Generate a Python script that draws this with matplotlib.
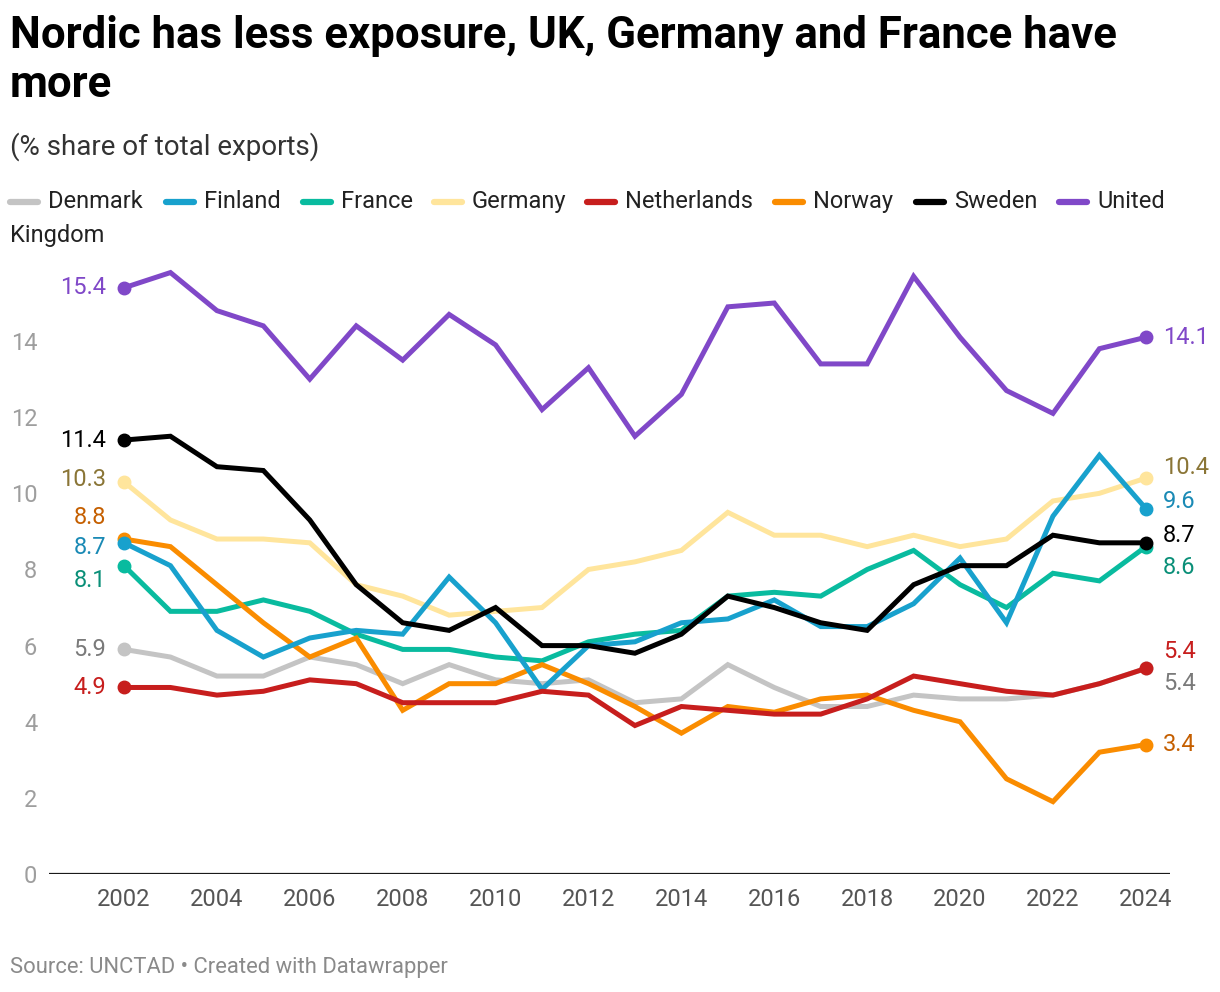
import numpy as np
import matplotlib
matplotlib.use("Agg")
import matplotlib.pyplot as plt
from matplotlib.lines import Line2D

plt.rcParams['font.family'] = ['Roboto', 'DejaVu Sans']

years = list(range(2002, 2025))

denmark = [5.9, 5.7, 5.2, 5.2, 5.7, 5.5, 5.0, 5.5, 5.1, 5.0, 5.1, 4.5, 4.6, 5.5, 4.9, 4.4, 4.4, 4.7, 4.6, 4.6, 4.7, 5.0, 5.4]
finland = [8.7, 8.1, 6.4, 5.7, 6.2, 6.4, 6.3, 7.8, 6.6, 4.85, 6.0, 6.1, 6.6, 6.7, 7.2, 6.5, 6.5, 7.1, 8.3, 6.6, 9.4, 11.0, 9.6]
france = [8.1, 6.9, 6.9, 7.2, 6.9, 6.3, 5.9, 5.9, 5.7, 5.6, 6.1, 6.3, 6.4, 7.3, 7.4, 7.3, 8.0, 8.5, 7.6, 7.0, 7.9, 7.7, 8.6]
germany = [10.3, 9.3, 8.8, 8.8, 8.7, 7.6, 7.3, 6.8, 6.9, 7.0, 8.0, 8.2, 8.5, 9.5, 8.9, 8.9, 8.6, 8.9, 8.6, 8.8, 9.8, 10.0, 10.4]
netherlands = [4.9, 4.9, 4.7, 4.8, 5.1, 5.0, 4.5, 4.5, 4.5, 4.8, 4.7, 3.9, 4.4, 4.3, 4.2, 4.2, 4.6, 5.2, 5.0, 4.8, 4.7, 5.0, 5.4]
norway = [8.8, 8.6, 7.6, 6.6, 5.7, 6.2, 4.3, 5.0, 5.0, 5.5, 5.0, 4.4, 3.7, 4.4, 4.25, 4.6, 4.7, 4.3, 4.0, 2.5, 1.9, 3.2, 3.4]
sweden = [11.4, 11.5, 10.7, 10.6, 9.3, 7.6, 6.6, 6.4, 7.0, 6.0, 6.0, 5.8, 6.3, 7.3, 7.0, 6.6, 6.4, 7.6, 8.1, 8.1, 8.9, 8.7, 8.7]
uk = [15.4, 15.8, 14.8, 14.4, 13.0, 14.4, 13.5, 14.7, 13.9, 12.2, 13.3, 11.5, 12.6, 14.9, 15.0, 13.4, 13.4, 15.7, 14.1, 12.7, 12.1, 13.8, 14.1]

names = ["Denmark", "Finland", "France", "Germany", "Netherlands", "Norway", "Sweden", "United Kingdom"]
series = [denmark, finland, france, germany, netherlands, norway, sweden, uk]
line_colors = ["#c4c4c4", "#18a1cd", "#09bb9f", "#ffe59c", "#c71e1d", "#fa8c00", "#000000", "#8048c8"]
label_colors = ["#7a7a7a", "#1a8ab5", "#0a8f78", "#8a7536", "#c71e1d", "#c55f00", "#000000", "#8048c8"]
# pixel nudges for end labels so they don't collide
left_dy = [0, -5, -15, 2, 0, 22, 0, 0]
right_dy = [-15, 7, -21, 11, 17, 0, 7, 0]
zorders = [2, 4, 3, 1, 5, 3, 6, 7]

fig = plt.figure(figsize=(12.2, 9.92), dpi=100)
ax = fig.add_axes([49 / 1220, 118 / 992, 1121 / 1220, 614 / 992])

for vals, col, lcol, z, ldy, rdy in zip(series, line_colors, label_colors, zorders, left_dy, right_dy):
    ax.plot(years, vals, color=col, lw=3.6, zorder=z, solid_joinstyle='miter')
    ax.plot([years[0], years[-1]], [vals[0], vals[-1]], 'o', color=col, ms=9, zorder=z)
    ax.annotate(f"{vals[0]:.1f}", (years[0], vals[0]), xytext=(-18, ldy), textcoords='offset pixels',
                ha='right', va='center', color=lcol, fontsize=17)
    ax.annotate(f"{vals[-1]:.1f}", (years[-1], vals[-1]), xytext=(17, rdy), textcoords='offset pixels',
                ha='left', va='center', color=lcol, fontsize=17)

ax.set_xlim(2000.385, 2024.52)
ax.set_ylim(0, 16.13)
ax.axhline(0, color='#1a1a1a', lw=1.6, zorder=8)
for s in ax.spines.values():
    s.set_visible(False)
ax.set_xticks(range(2002, 2025, 2))
ax.set_yticks(range(0, 15, 2))
ax.tick_params(length=0)
ax.tick_params(axis='x', colors='#555555', labelsize=17, pad=10)
ax.tick_params(axis='y', colors='#9e9e9e', labelsize=17, pad=8.5)
for lbl in ax.get_yticklabels():
    lbl.set_horizontalalignment('right')

fig.text(10 / 1220, 1 - 36 / 992, "Nordic has less exposure, UK, Germany and France have",
         fontsize=31.5, fontweight='bold', va='center', ha='left')
fig.text(10 / 1220, 1 - 85 / 992, "more", fontsize=31.5, fontweight='bold', va='center', ha='left')
fig.text(10 / 1220, 1 - 147 / 992, "(% share of total exports)", fontsize=20, color='#333333',
         va='center', ha='left')

# legend built by hand, Datawrapper style
leg_x = [10, 166, 303, 434, 587, 775, 916, 1059]
leg_y = 1 - 202 / 992
leg_base = 1 - 208 / 992
for x, nm, col in zip(leg_x, names, line_colors):
    fig.add_artist(Line2D([x / 1220, (x + 28) / 1220], [leg_y, leg_y], color=col, lw=4.5,
                          solid_capstyle='round', transform=fig.transFigure))
    label = "United" if nm == "United Kingdom" else nm
    fig.text((x + 38) / 1220, leg_base, label, fontsize=17, color='#222222', va='baseline', ha='left')
fig.text(10 / 1220, 1 - 242 / 992, "Kingdom", fontsize=17, color='#222222', va='baseline', ha='left')

fig.text(10 / 1220, 1 - 967 / 992, "Source: UNCTAD \u2022 Created with Datawrapper", fontsize=15.8,
         color='#8a8a8a', va='center', ha='left')

fig.savefig("out.png", dpi=100)
